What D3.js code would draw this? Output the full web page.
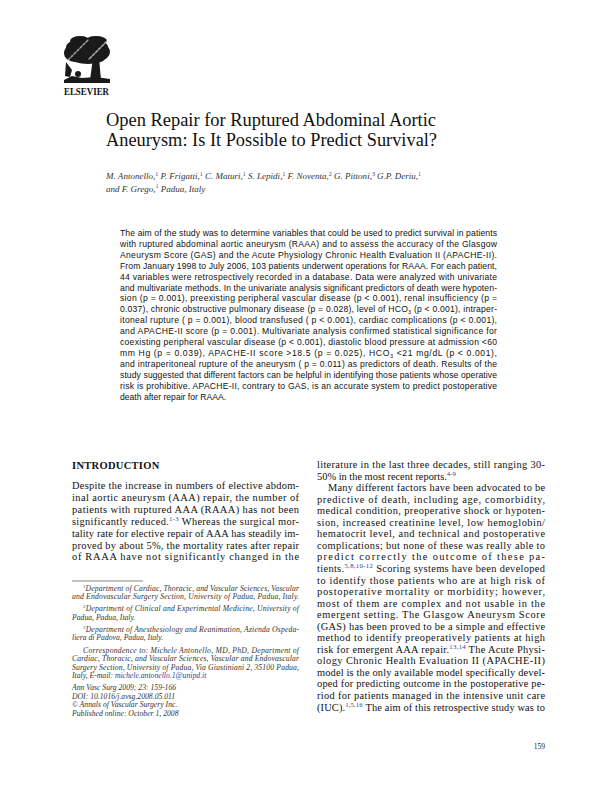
<!DOCTYPE html>
<html><head><meta charset="utf-8">
<script src="https://cdn.jsdelivr.net/npm/d3@7/dist/d3.min.js"></script>
<style>html,body{margin:0;padding:0;background:#fff}</style>
</head><body><svg id="pg" width="594" height="792"></svg>
<script>
// ---- text data (markup: ^{..} blue superscript, _{..} subscript, [..] blue text) ----
const titleLines = ["Open Repair for Ruptured Abdominal Aortic", "Aneurysm: Is It Possible to Predict Survival?"];
const authorLines = [
  "M. Antonello,^{1} P. Frigatti,^{1} C. Maturi,^{1} S. Lepidi,^{1} F. Noventa,^{2} G. Pittoni,^{3} G.P. Deriu,^{1}",
  "and F. Grego,^{1}  Padua, Italy"];
const abstractLines = [
  "The aim of the study was to determine variables that could be used to predict survival in patients",
  "with ruptured abdominal aortic aneurysm (RAAA) and to assess the accuracy of the Glasgow",
  "Aneurysm Score (GAS) and the Acute Physiology Chronic Health Evaluation II (APACHE-II).",
  "From January 1998 to July 2006, 103 patients underwent operations for RAAA. For each patient,",
  "44 variables were retrospectively recorded in a database. Data were analyzed with univariate",
  "and multivariate methods. In the univariate analysis significant predictors of death were hypoten-",
  "sion (p = 0.001), preexisting peripheral vascular disease (p < 0.001), renal insufficiency (p =",
  "0.037), chronic obstructive pulmonary disease (p = 0.028), level of HCO_{3} (p < 0.001), intraper-",
  "itoneal rupture ( p = 0.001), blood transfused ( p < 0.001), cardiac complications (p < 0.001),",
  "and APACHE-II score (p = 0.001). Multivariate analysis confirmed statistical significance for",
  "coexisting peripheral vascular disease (p < 0.001), diastolic blood pressure at admission <60",
  "mm Hg (p = 0.039), APACHE-II score >18.5 (p = 0.025), HCO_{3} <21 mg/dL (p < 0.001),",
  "and intraperitoneal rupture of the aneurysm ( p = 0.011) as predictors of death. Results of the",
  "study suggested that different factors can be helpful in identifying those patients whose operative",
  "risk is prohibitive. APACHE-II, contrary to GAS, is an accurate system to predict postoperative",
  "death after repair for RAAA."];
const leftLines = [
  "Despite the increase in numbers of elective abdom-",
  "inal aortic aneurysm (AAA) repair, the number of",
  "patients with ruptured AAA (RAAA) has not been",
  "significantly reduced.^{1-3} Whereas the surgical mor-",
  "tality rate for elective repair of AAA has steadily im-",
  "proved by about 5%, the mortality rates after repair",
  "of RAAA have not significantly changed in the"];
const footnoteLines = [
  ["^{1}Department of Cardiac, Thoracic, and Vascular Sciences, Vascular", 1, 1, 0],
  ["and Endovascular Surgery Section, University of Padua, Padua, Italy.", 0, 1, 0],
  ["^{2}Department of Clinical and Experimental Medicine, University of", 1, 1, 1],
  ["Padua, Padua, Italy.", 0, 0, 0],
  ["^{3}Department of Anesthesiology and Reanimation, Azienda Ospeda-", 1, 1, 1],
  ["liera di Padova, Padua, Italy.", 0, 0, 0],
  ["Correspondence to: Michele Antonello, MD, PhD, Department of", 1, 1, 1],
  ["Cardiac, Thoracic, and Vascular Sciences, Vascular and Endovascular", 0, 1, 0],
  ["Surgery Section, University of Padua, Via Giustiniani 2, 35100 Padua,", 0, 1, 0],
  ["Italy, E-mail: [michele.antonello.1@unipd.it]", 0, 0, 0],
  ["Ann Vasc Surg 2009; 23: 159-166", 0, 0, 1],
  ["DOI: 10.1016/j.avsg.2008.05.011", 0, 0, 0],
  ["© Annals of Vascular Surgery Inc.", 0, 0, 0],
  ["Published online: October 1, 2008", 0, 0, 0]];
const rightLines = [
  ["literature in the last three decades, still ranging 30-", 0, 1],
  ["50% in the most recent reports.^{4-9}", 0, 0],
  ["Many different factors have been advocated to be", 1, 1],
  ["predictive of death, including age, comorbidity,", 0, 1],
  ["medical condition, preoperative shock or hypoten-", 0, 1],
  ["sion, increased creatinine level, low hemoglobin/", 0, 1],
  ["hematocrit level, and technical and postoperative", 0, 1],
  ["complications; but none of these was really able to", 0, 1],
  ["predict correctly the outcome of these pa-", 0, 1],
  ["tients.^{5,8,10-12} Scoring systems have been developed", 0, 1],
  ["to identify those patients who are at high risk of", 0, 1],
  ["postoperative mortality or morbidity; however,", 0, 1],
  ["most of them are complex and not usable in the", 0, 1],
  ["emergent setting. The Glasgow Aneurysm Score", 0, 1],
  ["(GAS) has been proved to be a simple and effective", 0, 1],
  ["method to identify preoperatively patients at high", 0, 1],
  ["risk for emergent AAA repair.^{13,14} The Acute Physi-", 0, 1],
  ["ology Chronic Health Evaluation II (APACHE-II)", 0, 1],
  ["model is the only available model specifically devel-", 0, 1],
  ["oped for predicting outcome in the postoperative pe-", 0, 1],
  ["riod for patients managed in the intensive unit care", 0, 1],
  ["(IUC).^{1,5,16} The aim of this retrospective study was to", 0, 1]];
const headingText = "INTRODUCTION";
const pageNumber = "159";
const publisher = "ELSEVIER";

// ---- rendering ----
const svg = d3.select("#pg");
const BLUE = "#2b3f9e";
const SERIF = "'Liberation Serif','DejaVu Serif',serif";
const SANS = "'Liberation Sans',Arial,sans-serif";

function parse(s) {
  const re = /\^\{([^}]*)\}|_\{([^}]*)\}|\[([^\]]*)\]/g;
  const out = []; let last = 0, m;
  while ((m = re.exec(s))) {
    if (m.index > last) out.push({t: s.slice(last, m.index), k: "n"});
    if (m[1] !== undefined) out.push({t: m[1], k: "sup"});
    else if (m[2] !== undefined) out.push({t: m[2], k: "sub"});
    else out.push({t: m[3], k: "blue"});
    last = re.lastIndex;
  }
  if (last < s.length) out.push({t: s.slice(last), k: "n"});
  return out;
}
function drawLine(g, str, x, y, size, opts) {
  const t = g.append("text").attr("x", x).attr("y", y)
    .attr("font-family", opts.family).attr("font-size", size)
    .attr("font-style", opts.italic ? "italic" : "normal")
    .attr("font-weight", opts.bold ? "bold" : "normal")
    .attr("fill", opts.fill || "#111");
  if (opts.width) t.attr("textLength", opts.width).attr("lengthAdjust", opts.adjust || "spacing");
  let reset = 0;
  parse(str).forEach(p => {
    const ts = t.append("tspan").text(p.t);
    if (p.k === "sup") { ts.attr("fill", BLUE).attr("font-size", size * 0.65).attr("dy", -size * 0.38).attr("font-style", "normal"); reset = size * 0.38; }
    else if (p.k === "sub") { ts.attr("font-size", size * 0.65).attr("dy", size * 0.22); reset = -size * 0.22; }
    else { if (reset) ts.attr("dy", reset); reset = 0; if (p.k === "blue") ts.attr("fill", BLUE); }
  });
  return t;
}

// Logo (stylised tree)
const logo = svg.append("g").attr("fill", "#1a1a1a");
const canopy = [[87,47,21,9],[75,53,11,9],[99,52,11,9],[88,58,17,6],[80,41,10,5],[96,41,11,5]];
logo.selectAll("ellipse").data(canopy).join("ellipse")
  .attr("cx", d => d[0]).attr("cy", d => d[1]).attr("rx", d => d[2]).attr("ry", d => d[3]);
logo.append("path").attr("d", "M93,58 L99,58 L101,80 L90,80 Z");
logo.append("path").attr("d", "M64,80 L72,76 L82,78 L96,77 L110,79 L110,83 L64,83 Z");
logo.append("path").attr("d", "M66,62 L72,70 L70,77 L65,76 Z");
logo.append("circle").attr("cx", 78).attr("cy", 74).attr("r", 3);
// light speckles to suggest foliage texture
const speck = d3.range(0, 60).map(i => [68 + (i * 37) % 40, 40 + (i * 23) % 20]);
logo.selectAll("circle.s").data(speck).join("circle").attr("class", "s")
  .attr("cx", d => d[0]).attr("cy", d => d[1]).attr("r", 0.6).attr("fill", "#fff");
svg.append("text").attr("x", 64).attr("y", 95).text(publisher)
  .attr("font-family", SERIF).attr("font-weight", "bold").attr("font-size", 9.5)
  .attr("textLength", 45).attr("lengthAdjust", "spacingAndGlyphs").attr("fill", "#111");

// Title
const yTitle = [126, 146];
titleLines.forEach((s, i) => drawLine(svg, s, 106, yTitle[i], 18.5,
  {family: SERIF, width: i === 0 ? 330 : 331, adjust: "spacingAndGlyphs"}));

// Authors
authorLines.forEach((s, i) => drawLine(svg, s, 106, 179 + i * 12.5, 9,
  {family: SERIF, italic: true, fill: "#333", width: i === 0 ? 315 : null}));

// Abstract
abstractLines.forEach((s, i) => drawLine(svg, s, 120, 236 + i * 10.9, 8.6,
  {family: SANS, width: i < abstractLines.length - 1 ? 377 : null}));

// Heading
svg.append("text").attr("x", 72).attr("y", 469).text(headingText)
  .attr("font-family", SERIF).attr("font-weight", "bold").attr("font-size", 10.5)
  .attr("letter-spacing", 0.3).attr("fill", "#111");

// Left column
leftLines.forEach((s, i) => drawLine(svg, s, 72, 489 + i * 11.9, 10.4,
  {family: SERIF, width: 227}));

// Footnote rule
svg.append("line").attr("x1", 72).attr("x2", 143).attr("y1", 581).attr("y2", 581)
  .attr("stroke", "#333").attr("stroke-width", 0.6);

// Footnotes
let fy = 590.5;
footnoteLines.forEach((d, i) => {
  if (i > 0) fy += d[3] ? 12.2 : 8.5;
  const x = d[1] ? 83 : 72;
  drawLine(svg, d[0], x, fy, 7.7, {family: SERIF, italic: true, fill: "#333", width: d[2] ? 299 - x : null});
});

// Right column
rightLines.forEach((d, i) => {
  const x = d[1] ? 328 : 317;
  drawLine(svg, d[0], x, 468 + i * 11.55, 10.4, {family: SERIF, width: d[2] ? 545 - x : null});
});

// Page number
svg.append("text").attr("x", 545).attr("y", 749).attr("text-anchor", "end").text(pageNumber)
  .attr("font-family", SERIF).attr("font-size", 7.5).attr("fill", "#222");
</script></body></html>
